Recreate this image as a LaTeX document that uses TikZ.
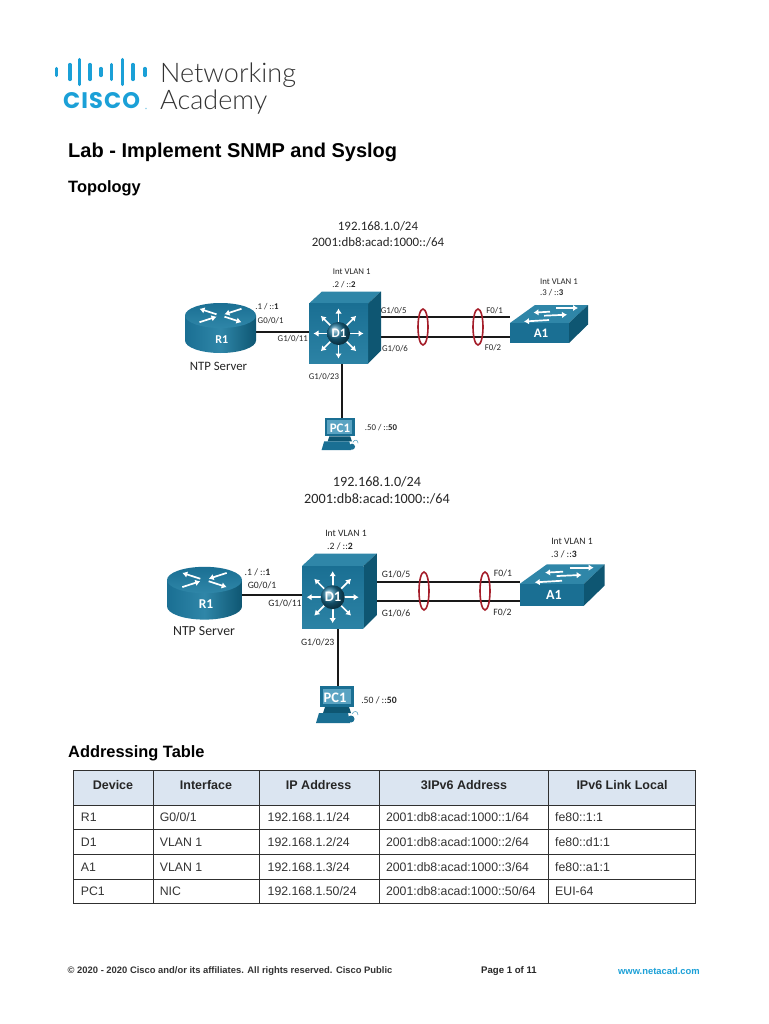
\documentclass[tikz,border=0pt]{standalone}
\usepackage{fontspec}
\setmainfont{Liberation Sans}
\newfontfamily\cali{Carlito}
\newfontfamily\logofont[LetterSpace=5]{Poppins}
\newfontfamily\nafont{Lato Light}
\usetikzlibrary{arrows.meta}
\definecolor{ciscoblue}{HTML}{1BA0D7}
\definecolor{devtop}{HTML}{2F86A8}
\definecolor{devfront}{HTML}{1A6F93}
\definecolor{devside}{HTML}{0E5672}
\definecolor{devdark}{HTML}{0B4259}
\definecolor{devlight}{HTML}{5AA3C2}
\definecolor{hdrfill}{HTML}{DBE5F1}
\definecolor{tline}{HTML}{303030}
\definecolor{ringred}{HTML}{A51E2A}
\tikzset{
 x=1pt,y=-1pt,
 devarrow/.style={white,line width=1.7pt,-{Latex[length=5pt,width=6.5pt]}},
 devlabel/.style={text=white,font=\cali\bfseries,inner sep=0pt},
 netlabel/.style={font=\cali,text=black!85,inner sep=0pt,anchor=center},
 portlabel/.style={font=\cali,text=black!85,inner sep=0pt},
 wire/.style={line width=1.8pt,black!90},
 thinwire/.style={line width=1.3pt,black!90},
 ring/.style={draw=ringred,line width=1.6pt},
 cellh/.style={font=\bfseries\fontsize{12.5}{13}\selectfont,text=black!85,inner sep=0pt,anchor=base},
 cellb/.style={font=\fontsize{12.3}{13}\selectfont,text=black!80,inner sep=0pt,anchor=base west},
 heading/.style={font=\bfseries,text=black,inner sep=0pt,anchor=base west},
 routericon/.pic={
  % origin: centre of top ellipse
  \shade[left color=devfront,right color=devside,middle color=devtop] (-35.5,0) -- (-35.5,25) arc[x radius=35.5,y radius=12.5,start angle=180,end angle=0] -- (35.5,0) -- cycle;
  \shade[top color=devfront,bottom color=devtop] (0,0) ellipse[x radius=35.5,y radius=12.5];
  \draw[devarrow] (-4,-1.2) -- (-21,-6.7);
  \draw[devarrow] (4,1.2) -- (21,6.7);
  \draw[devarrow] (-21,6.7) -- (-4,1.2);
  \draw[devarrow] (21,-6.7) -- (4,-1.2);
 },
 dswitchicon/.pic={
  % origin: front face top-left
  \fill[devtop] (0,0) -- (13,-12) -- (72,-12) -- (59,0) -- cycle;
  \fill[devside] (59,0) -- (72,-12) -- (72,47) -- (59,60) -- cycle;
  \shade[top color=devfront,bottom color=devtop!85!devfront] (0,0) rectangle (59,60);
  \foreach \a in {0,45,...,315}{\draw[devarrow] (29.5,30)++(\a:11) -- ++(\a:14);}
  \shade[ball color=devfront] (29.5,30) circle[radius=11.5];
 },
 aswitchicon/.pic={
  % origin: front face top-left
  \fill[devtop] (0,0) -- (25,-18) -- (78,-18) -- (59,0) -- cycle;
  \fill[devside] (59,0) -- (78,-18) -- (78,1.5) -- (59,20) -- cycle;
  \fill[devfront] (0,0) rectangle (59,20);
  \draw[devarrow] (46,-15) -- (68,-15);
  \draw[devarrow] (40,-11.3) -- (23.5,-10.4);
  \draw[devarrow] (34,-7.3) -- (57,-8.3);
  \draw[devarrow] (39,-3) -- (14,-1.5);
 },
 pcicon/.pic={
  % origin: monitor top-left, sized for the lower drawing
  \fill[devfront] (0,0) rectangle (34,21);
  \fill[devlight] (2.5,2.5) rectangle (31,18);
  \fill[devside] (5,21) -- (29,21) -- (31,27) -- (3,27) -- cycle;
  \fill[devfront] (-1,27) -- (28,27) -- (30,37) -- (-4,37) -- cycle;
  \fill[devfront] (31,33) ellipse[x radius=3.5,y radius=3.5];
  \draw[devlight,line width=.6pt] (32,28) .. controls (34,24) and (38,25) .. (38,29);
 },
}
\begin{document}
\begin{tikzpicture}
\useasboundingbox (0,0) rectangle (768,1024);
\fill[white] (0,0) rectangle (768,1024);
% logo
\foreach \xx/\hh/\ii in {56.7/7/a,70/15/b,79.3/25/c,90/15/d,101/7/e,111.7/15/f,122.7/25/g,133/15/h,145/7/i}{
  \draw[ciscoblue,line width=3.2pt,line cap=round] (\xx,72-\hh/2) -- (\xx,72+\hh/2);
}
\node[inner sep=0pt,anchor=base west,text=ciscoblue] (ciscoword) at (63,109) {\logofont\bfseries\fontsize{22.5}{23}\selectfont CISCO};
\fill[ciscoblue!50] (146,108.5) circle[radius=.8];
\node[inner sep=0pt,anchor=base west,text=black!80] (nawordone) at (160,83) {\nafont\fontsize{27}{28}\selectfont Networking};
\node[inner sep=0pt,anchor=base west,text=black!80] (nawordtwo) at (160,110) {\nafont\fontsize{27}{28}\selectfont Academy};
% headings
\node[heading,font=\bfseries\fontsize{20}{22}\selectfont] (title) at (68,157.5) {Lab - Implement SNMP and Syslog};
\node[heading,font=\bfseries\fontsize{16.4}{18}\selectfont] (topo) at (68,193) {Topology};
\node[heading,font=\bfseries\fontsize{16.4}{18}\selectfont] (addr) at (68,757) {Addressing Table};

% ---------- top topology
\node[netlabel,font=\cali\fontsize{12.9}{14}\selectfont] (ta) at (378,226) {192.168.1.0/24};
\node[netlabel,font=\cali\fontsize{12.9}{14}\selectfont] (tb) at (378,242) {2001:db8:acad:1000::/64};
\coordinate (tR1) at (255,332);
\coordinate (tDl) at (309,332);
\coordinate (tDa) at (379,317);
\coordinate (tDb) at (379,337);
\coordinate (tAa) at (510,317);
\coordinate (tAb) at (510,337);
\coordinate (tDv) at (342,363);
\coordinate (tPv) at (342,418);
\draw[thinwire] (tR1) -- (tDl);
\draw[wire] (tDa) -- (tAa);
\draw[wire] (tDb) -- (tAb);
\draw[wire] (tDv) -- (tPv);
\pic at (220.5,315.5) {routericon};
\pic at (309,303.5) {dswitchicon};
\pic at (510,323) {aswitchicon};
\pic[scale=.87] at (325,418) {pcicon};
\node[devlabel,font=\cali\bfseries\fontsize{12}{12}\selectfont] (tR) at (221.7,340) {R1};
\node[devlabel,font=\cali\bfseries\fontsize{13}{13}\selectfont] (tD) at (339,333.3) {D1};
\node[devlabel,font=\cali\bfseries\fontsize{13}{13}\selectfont] (tA) at (541,333) {A1};
\node[devlabel,font=\cali\bfseries\fontsize{13}{13}\selectfont] (tP) at (340,428.5) {PC1};
\draw[ring] (423,327) ellipse[x radius=5,y radius=18];
\draw[ring] (478,327) ellipse[x radius=5,y radius=18];
\node[portlabel,font=\cali\fontsize{12.8}{13}\selectfont] (tn) at (218.5,366) {NTP Server};
\foreach \n/\x/\y/\t in {
 a/267/307/{.1 / ::\textbf{1}},
 b/270.6/321/{G0/0/1},
 c/292.8/339/{G1/0/11},
 d/351.7/272/{Int VLAN 1},
 e/344/285/{.2 / ::\textbf{2}},
 f/393.7/311/{G1/0/5},
 g/395/349/{G1/0/6},
 h/494.6/311/{F0/1},
 i/493/348/{F0/2},
 j/559/281.7/{Int VLAN 1},
 k/551.7/293/{.3 / ::\textbf{3}},
 l/324/376.7/{G1/0/23},
 m/381/428/{.50 / ::\textbf{50}}}{
 \node[portlabel,font=\cali\fontsize{8.8}{9}\selectfont] (tl\n) at (\x,\y) {\t};
}

% ---------- bottom topology
\node[netlabel,font=\cali\fontsize{14.2}{15}\selectfont] (ba) at (377,482) {192.168.1.0/24};
\node[netlabel,font=\cali\fontsize{14.2}{15}\selectfont] (bb) at (377,499) {2001:db8:acad:1000::/64};
\coordinate (bR1) at (242,595);
\coordinate (bDl) at (302,595);
\coordinate (bDa) at (376,582);
\coordinate (bDb) at (376,601);
\coordinate (bAa) at (520,582);
\coordinate (bAb) at (520,601);
\coordinate (bDv) at (338,629);
\coordinate (bPv) at (338,686);
\draw[wire] (bR1) -- (bDl);
\draw[wire] (bDa) -- (bAa);
\draw[wire] (bDb) -- (bAb);
\draw[wire] (bDv) -- (bPv);
\pic[scale=1.056] at (204.5,580) {routericon};
\pic[scale=1.04] at (302,566) {dswitchicon};
\pic[scale=1.09] at (519.5,584) {aswitchicon};
\pic at (320,686) {pcicon};
\node[devlabel,font=\cali\bfseries\fontsize{13.5}{14}\selectfont] (bR) at (206,604) {R1};
\node[devlabel,font=\cali\bfseries\fontsize{14.5}{15}\selectfont] (bD) at (333,597) {D1};
\node[devlabel,font=\cali\bfseries\fontsize{14}{15}\selectfont] (bA) at (554,595) {A1};
\node[devlabel,font=\cali\bfseries\fontsize{14.5}{15}\selectfont] (bP) at (335,697.5) {PC1};
\draw[ring] (424,591) ellipse[x radius=5,y radius=19];
\draw[ring] (485,591) ellipse[x radius=5,y radius=19];
\node[portlabel,font=\cali\fontsize{13.8}{14}\selectfont] (bn) at (204,630.7) {NTP Server};
\foreach \n/\x/\y/\t in {
 a/257.5/572/{.1 / ::\textbf{1}},
 b/262/585/{G0/0/1},
 c/285/603/{G1/0/11},
 d/346/533/{Int VLAN 1},
 e/340/546/{.2 / ::\textbf{2}},
 f/396/574/{G1/0/5},
 g/396/613/{G1/0/6},
 h/503/573/{F0/1},
 i/502.5/612/{F0/2},
 j/572/541.7/{Int VLAN 1},
 k/564/554/{.3 / ::\textbf{3}},
 l/317.7/642/{G1/0/23},
 m/379/700.7/{.50 / ::\textbf{50}}}{
 \node[portlabel,font=\cali\fontsize{9.7}{10}\selectfont] (bl\n) at (\x,\y) {\t};
}

% ---------- table
\fill[hdrfill] (73,770) rectangle (695,805);
\foreach \yy in {770,805,829.5,854,879,903.5}{\draw[tline,line width=.9pt] (73,\yy) -- (695,\yy);}
\foreach \xx in {73,153.4,259.6,379.5,548,695}{\draw[tline,line width=.9pt] (\xx,770) -- (\xx,903.5);}
\foreach \n/\x/\t in {a/113/Device,b/206/Interface,c/318.6/IP Address,d/464/3IPv6 Address,e/622/IPv6 Link Local}{
 \node[cellh] (h\n) at (\x,789) {\t};
}
\foreach \r/\y/\aa/\bb/\cc/\dd/\ee in {
 a/821/R1/G0\slash 0\slash 1/192.168.1.1\slash 24/2001:db8:acad:1000::1\slash 64/fe80::1:1,
 b/846/D1/VLAN 1/192.168.1.2\slash 24/2001:db8:acad:1000::2\slash 64/fe80::d1:1,
 c/871/A1/VLAN 1/192.168.1.3\slash 24/2001:db8:acad:1000::3\slash 64/fe80::a1:1,
 d/895/PC1/NIC/192.168.1.50\slash 24/2001:db8:acad:1000::50\slash 64/EUI-64}{
 \node[cellb] (\r1) at (80.7,\y) {\aa};
 \node[cellb] (\r2) at (159.6,\y) {\bb};
 \node[cellb] (\r3) at (267.5,\y) {\cc};
 \node[cellb] (\r4) at (385.8,\y) {\dd};
 \node[cellb] (\r5) at (555,\y) {\ee};
}
% footer
\node[inner sep=0pt,anchor=west,font=\bfseries\fontsize{9.4}{10}\selectfont,text=black!80] (fa) at (67.5,971) {© 2020 - 2020 Cisco and/or its affiliates. All rights reserved. Cisco Public};
\node[inner sep=0pt,anchor=west,font=\bfseries\fontsize{9.6}{10}\selectfont,text=black!85] (fb) at (481,971) {Page 1 of 11};
\node[inner sep=0pt,anchor=east,font=\bfseries\fontsize{9.4}{10}\selectfont,text=ciscoblue] (fc) at (700,971) {www.netacad.com};
\end{tikzpicture}
\end{document}
